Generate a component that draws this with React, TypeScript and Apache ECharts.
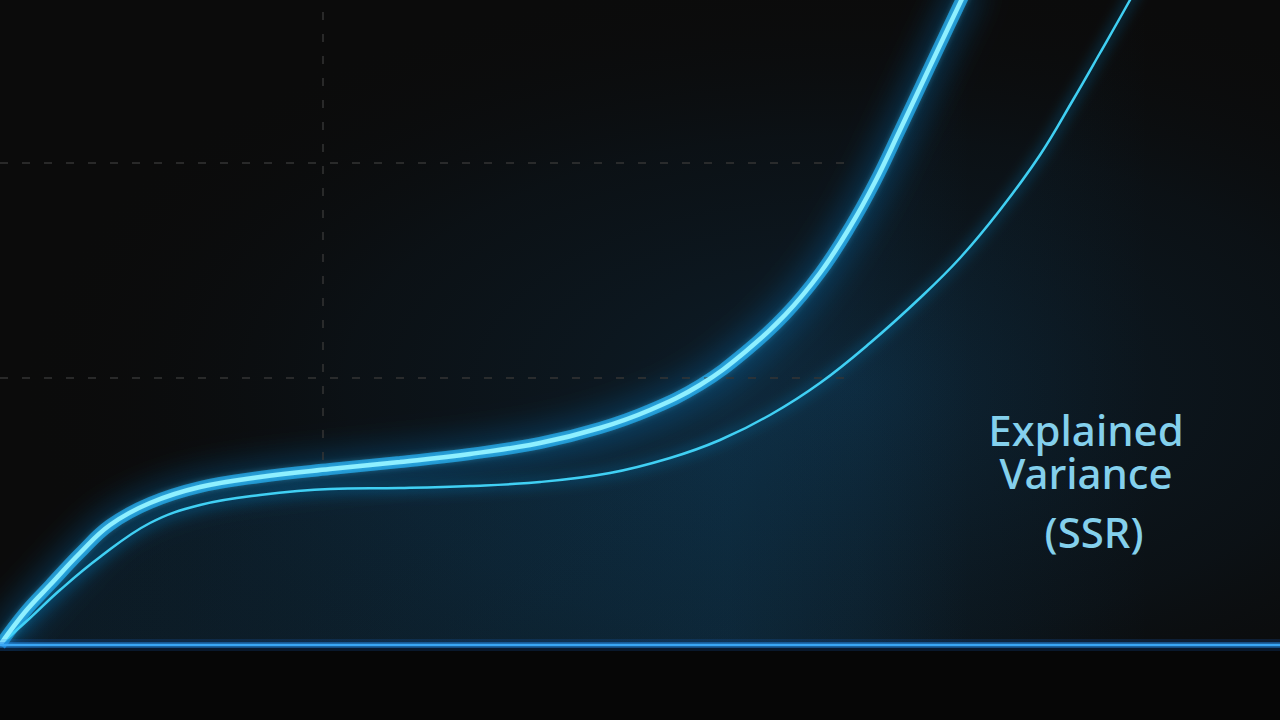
import React, { useEffect, useRef } from "react";
import * as echarts from "echarts";

// Abstract curve data: x position units (0..1280), height above baseline (0..645)
const upperX = [0, 25, 50, 80, 110, 150, 200, 260, 330, 400, 470, 540, 600, 650, 700, 745, 785, 820, 850, 875, 900, 925, 950, 970];
const upperY = [0, 33, 60, 92, 120, 142, 158, 168, 176, 183, 191, 202, 217, 235, 260, 293, 330, 372, 418, 463, 515, 568, 621, 663];
const lowerX = [0, 30, 60, 100, 150, 200, 260, 330, 400, 470, 540, 610, 670, 720, 770, 820, 870, 920, 960, 1000, 1040, 1073, 1100, 1130, 1150];
const lowerY = [0, 27, 55, 88, 122, 140, 150, 156, 157, 159, 163, 172, 187, 205, 230, 262, 302, 347, 387, 435, 490, 545, 592, 645, 682];
const baselineX = [0, 1280];
const baselineY = [0, 0];
const gridHeights = [267, 482];
const gridVerticalX = [323];
const labelTop = "Explained\nVariance";
const labelBottom = "(SSR)";

const pair = (xs: number[], ys: number[]) => xs.map((x, i) => [x, ys[i]]);

export default function App() {
  const ref = useRef<HTMLDivElement>(null);
  useEffect(() => {
    if (!ref.current) return;
    const chart = echarts.init(ref.current, null, { renderer: "svg" });
    const upper = pair(upperX, upperY);
    const lower = pair(lowerX, lowerY);
    const baseline = pair(baselineX, baselineY);
    const dashStyle = { color: "#343434", width: 1.5, type: [8, 14] as any };
    const markLines: any[] = [
      ...gridHeights.map((h) => [{ coord: [0, h] }, { coord: [850, h] }]),
      ...gridVerticalX.map((x) => [{ coord: [x, 185] }, { coord: [x, 645] }]),
    ];
    const fadeArea = (a: number) =>
      new echarts.graphic.LinearGradient(0, 0, 1, 0, [
        { offset: 0, color: `rgba(16,80,125,${a * 0.7})` },
        { offset: 0.75, color: `rgba(18,95,145,${a})` },
        { offset: 1, color: "rgba(18,95,145,0)" },
      ]);
    const curve = (data: any, lineStyle: any, z: number, extra: any = {}) => ({
      type: "line",
      data,
      smooth: 0.4,
      symbol: "none",
      clip: true,
      lineStyle,
      z,
      ...extra,
    });
    const baseLayer = (color: string, width: number, z: number) => ({
      type: "line",
      data: baseline,
      symbol: "none",
      clip: false,
      lineStyle: { color, width },
      z,
    });
    chart.setOption({
      animation: false,
      backgroundColor: "#0b0b0b",
      grid: { left: 0, right: 0, top: 0, bottom: 75, containLabel: false },
      xAxis: {
        type: "value",
        min: 0,
        max: 1280,
        axisLine: { show: false },
        axisTick: { show: false },
        axisLabel: { show: false },
        splitLine: { show: false },
      },
      yAxis: {
        type: "value",
        min: 0,
        max: 645,
        show: false,
        splitLine: { show: false },
      },
      graphic: [
        {
          type: "rect",
          left: 0,
          top: 646,
          shape: { width: 1280, height: 74 },
          style: { fill: "#060606" },
          z: -10,
          silent: true,
        },
        {
          type: "rect",
          left: 0,
          top: 0,
          shape: { width: 1280, height: 645 },
          style: {
            fill: new echarts.graphic.RadialGradient(0.66, 0.6, 0.65, [
              { offset: 0, color: "rgba(14,44,66,0.6)" },
              { offset: 0.6, color: "rgba(12,28,40,0.35)" },
              { offset: 1, color: "rgba(11,11,11,0)" },
            ]),
          },
          z: -9,
          silent: true,
        },
        {
          type: "text",
          x: 1086,
          y: 451,
          style: {
            text: labelTop,
            fill: "#84d0ec",
            font: "500 42px 'Noto Sans', sans-serif",
            lineHeight: 43,
            align: "center",
            verticalAlign: "middle",
            shadowBlur: 8,
            shadowColor: "rgba(60,170,230,0.6)",
          },
          z: 20,
        },
        {
          type: "text",
          x: 1094,
          y: 531,
          style: {
            text: labelBottom,
            fill: "#84d0ec",
            font: "500 42px 'Noto Sans', sans-serif",
            align: "center",
            verticalAlign: "middle",
            shadowBlur: 8,
            shadowColor: "rgba(60,170,230,0.6)",
          },
          z: 20,
        },
      ],
      series: [
        curve(
          upper,
          { color: "#1fa6ee", width: 12, shadowBlur: 34, shadowColor: "#0a86e0", opacity: 0.75 },
          3,
          {
            areaStyle: { color: fadeArea(0.28) },
            markLine: {
              silent: true,
              symbol: "none",
              label: { show: false },
              lineStyle: dashStyle,
              data: markLines,
            },
          }
        ),
        curve(upper, { color: "#8ff0ff", width: 4.5, shadowBlur: 8, shadowColor: "#3cd0ff" }, 5),
        curve(
          lower,
          { color: "#3fd0f4", width: 2.5, shadowBlur: 14, shadowColor: "#1a9ae8" },
          4,
          { areaStyle: { color: fadeArea(0.18) } }
        ),
        baseLayer("rgba(25,110,220,0.18)", 12, 6),
        baseLayer("rgba(35,140,235,0.45)", 6, 7),
        baseLayer("#3aa6f4", 2.5, 8),
      ],
    });
    return () => chart.dispose();
  }, []);
  return (
    <div
      ref={ref}
      style={{ position: "fixed", left: 0, top: 0, width: 1280, height: 720 }}
    />
  );
}
